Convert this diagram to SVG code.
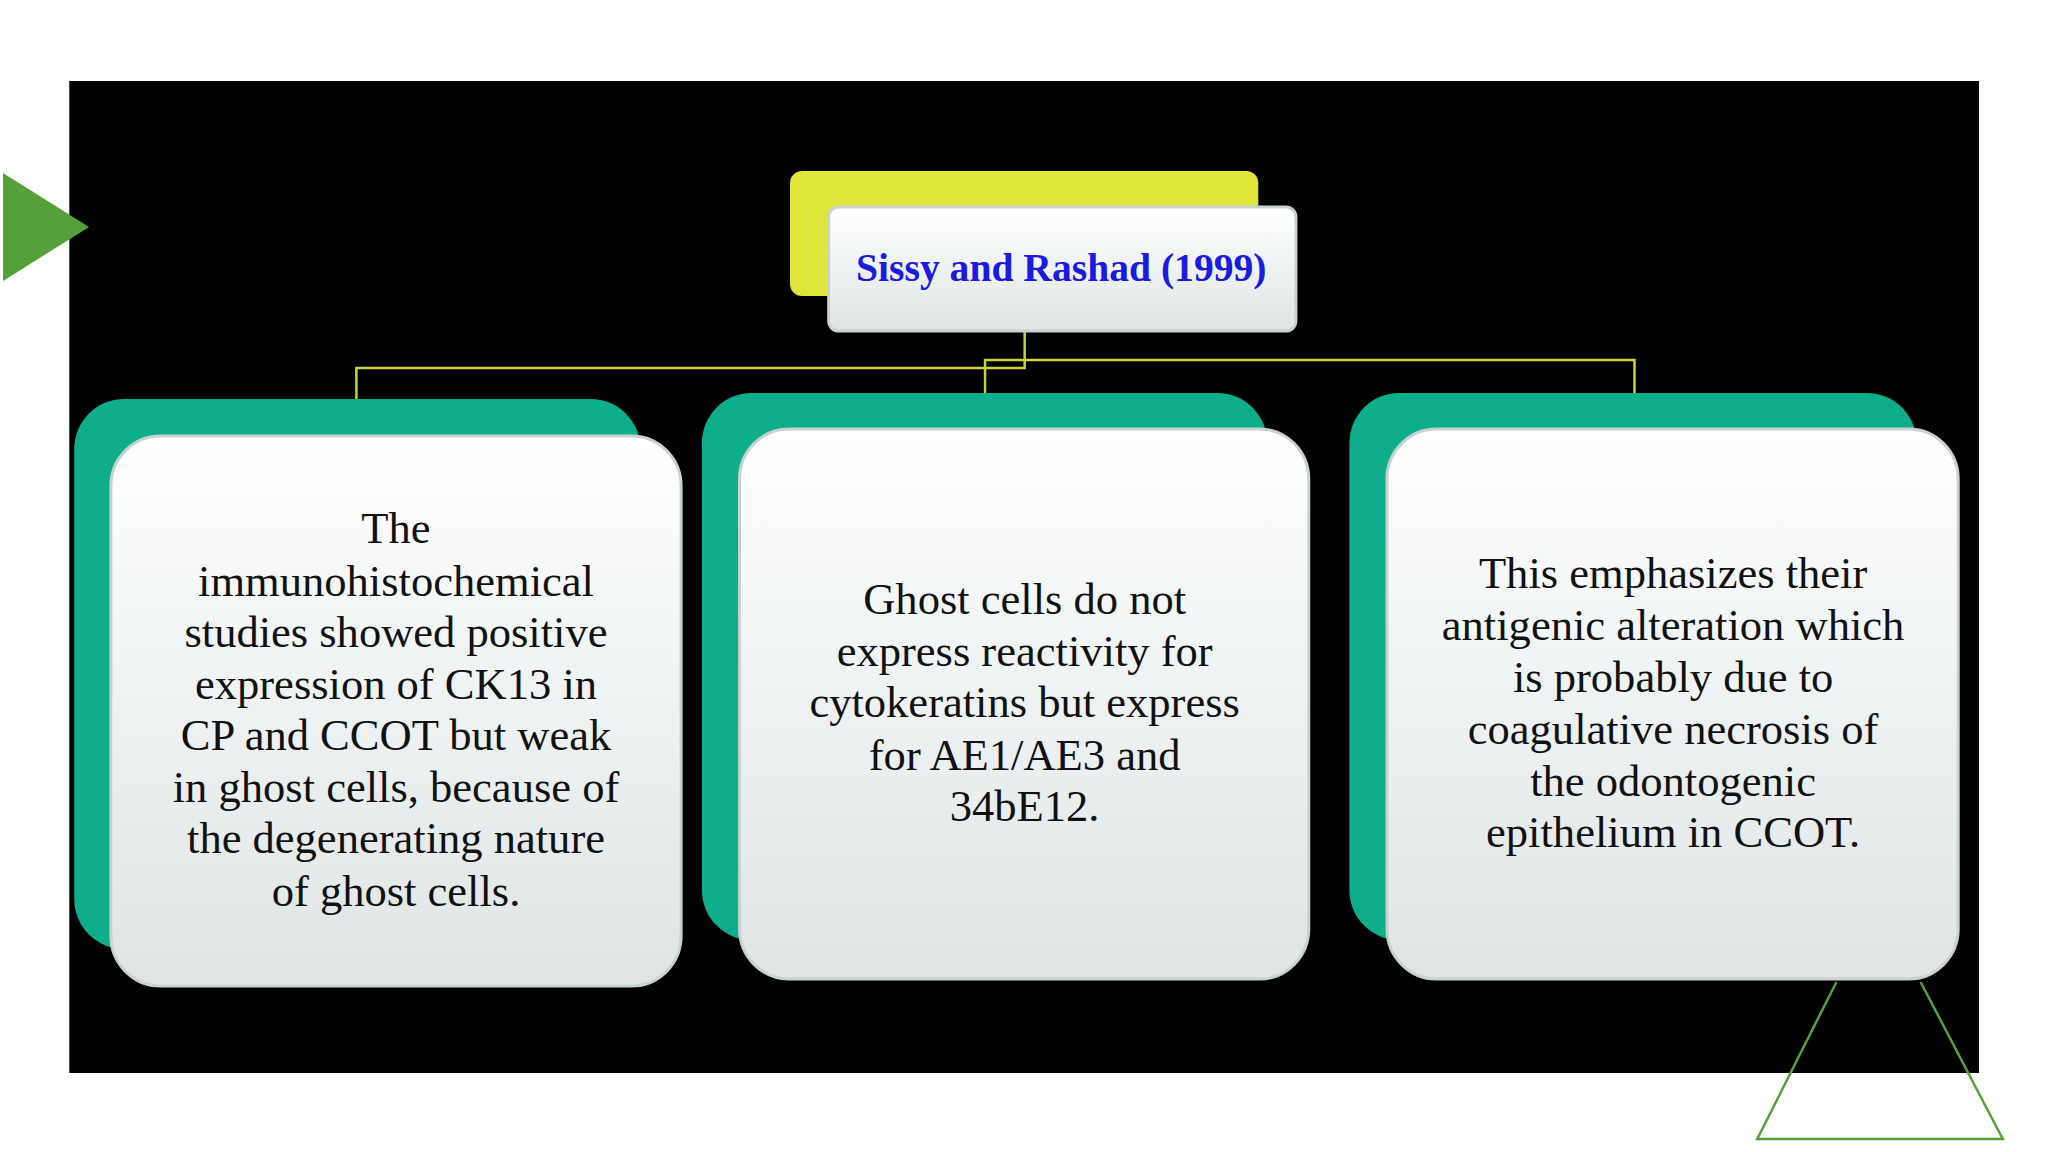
<svg xmlns="http://www.w3.org/2000/svg" width="2048" height="1152" viewBox="0 0 2048 1152">
<defs>
<linearGradient id="wg" x1="0" y1="0" x2="0" y2="1"><stop offset="0" stop-color="#ffffff"/><stop offset="0.5" stop-color="#eef2f2"/><stop offset="1" stop-color="#dfe4e4"/></linearGradient>
<style>
.teal{fill:#0fae8a;}
.card{fill:url(#wg);stroke:#c9d2cf;stroke-width:3;}
.t{font-family:"Liberation Serif",serif;font-size:45px;fill:#111;text-anchor:middle;}
.conn{fill:none;stroke:#c8d43a;stroke-width:2.5;}
</style>
</defs>
<rect width="2048" height="1152" fill="#fff"/>
<g transform="scale(0.99,1)">
<rect x="70" y="81" width="1929" height="992" fill="#000"/>
<polygon points="3,173 90,227 3,281" fill="#55a03a"/>
<polyline points="1855,982 1775,1139 2023,1139 1940,982" fill="none" stroke="#55a03a" stroke-width="2.5"/>
<g id="connectors">
<polyline class="conn" points="1035,331 1035,368 360,368 360,399"/>
<polyline class="conn" points="995,393 995,360 1651,360 1651,393"/>
</g>
<g id="root">
<rect x="798" y="171" width="473" height="125" rx="12" fill="#dfe63a"/>
<rect x="837" y="207" width="472" height="124" rx="10" class="card"/>
<text x="1072" y="281" font-family="Liberation Serif,serif" font-weight="bold" font-size="40" fill="#1a1ae0" text-anchor="middle">Sissy and Rashad (1999)</text>
</g>
<g id="left">
<rect x="75" y="399" width="572" height="550" rx="50" class="teal"/>
<rect x="112" y="436" width="576" height="550" rx="50" class="card"/>
<text class="t"><tspan x="400" y="543">The</tspan><tspan x="400" y="596">immunohistochemical</tspan><tspan x="400" y="647">studies showed positive</tspan><tspan x="400" y="699">expression of  CK13 in</tspan><tspan x="400" y="750">CP and CCOT but weak</tspan><tspan x="400" y="802">in ghost cells, because of</tspan><tspan x="400" y="853">the degenerating nature</tspan><tspan x="400" y="906">of  ghost cells.</tspan></text>
</g>
<g id="middle">
<rect x="709" y="393" width="571" height="547" rx="50" class="teal"/>
<rect x="747" y="429" width="575" height="550" rx="50" class="card"/>
<text class="t"><tspan x="1035" y="614">Ghost cells do not</tspan><tspan x="1035" y="666">express reactivity for</tspan><tspan x="1035" y="717">cytokeratins but express</tspan><tspan x="1035" y="770">for AE1/AE3 and</tspan><tspan x="1035" y="821">34bE12.</tspan></text>
</g>
<g id="right">
<rect x="1363" y="393" width="573" height="547" rx="50" class="teal"/>
<rect x="1401" y="429" width="577" height="550" rx="50" class="card"/>
<text class="t"><tspan x="1690" y="588">This emphasizes their</tspan><tspan x="1690" y="640">antigenic alteration which</tspan><tspan x="1690" y="692">is probably due to</tspan><tspan x="1690" y="744">coagulative necrosis of</tspan><tspan x="1690" y="796">the odontogenic</tspan><tspan x="1690" y="847">epithelium in CCOT.</tspan></text>
</g>
</g>
</svg>
